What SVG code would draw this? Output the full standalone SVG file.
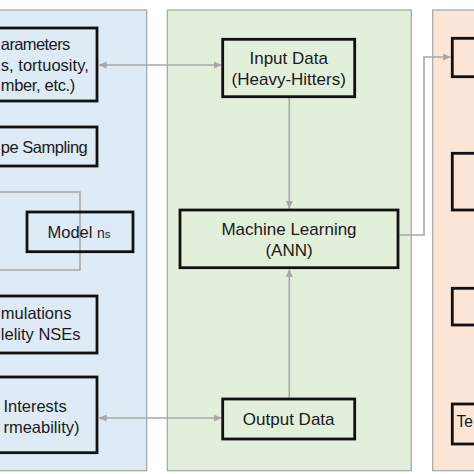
<svg xmlns="http://www.w3.org/2000/svg" width="474" height="474" viewBox="0 0 474 474">
<defs>
<style>
.panel{stroke:#a3a3a3;stroke-width:1.2}
.box{fill:none;stroke:#111;stroke-width:2.8}
.t{font-family:"Liberation Sans",Arial,sans-serif;font-size:17px;fill:#1a1a1a}
.l{font-size:16.5px}
.c{text-anchor:middle}
.e{text-anchor:end}
.con{fill:none;stroke:#a8a8a8;stroke-width:1.6}
</style>
<marker id="ah" viewBox="0 0 10 10" refX="9.5" refY="5" markerWidth="8" markerHeight="8" markerUnits="userSpaceOnUse" orient="auto-start-reverse">
<path d="M0,0.5 L10,5 L0,9.5 Z" fill="#a8a8a8"/>
</marker>
</defs>
<rect width="474" height="474" fill="#ffffff"/>
<rect class="panel" x="-5" y="10" width="151.7" height="460.7" fill="#deebf7"/>
<rect class="panel" x="167.3" y="10" width="244" height="460.7" fill="#e2efda"/>
<rect class="panel" x="432.7" y="10" width="50" height="460.7" fill="#fbe5d6"/>
<g id="connectors">
<path class="con" d="M-5,192 H80 V270 H-5"/>
<line class="con" x1="99" y1="65" x2="221.5" y2="65" marker-start="url(#ah)" marker-end="url(#ah)"/>
<line class="con" x1="99" y1="418" x2="221.5" y2="418" marker-start="url(#ah)" marker-end="url(#ah)"/>
<line class="con" x1="289.3" y1="98" x2="289.3" y2="208.5" marker-end="url(#ah)"/>
<line class="con" x1="289.3" y1="398" x2="289.3" y2="269.5" marker-end="url(#ah)"/>
<path class="con" d="M399.5,235 H424 V57 H450.5" marker-end="url(#ah)"/>
</g>
<g id="params">
<rect class="box" x="-5" y="28" width="102" height="73" fill="#deebf7"/>
<text class="t l" x="0.8" y="50" textLength="69.5" lengthAdjust="spacing">arameters</text>
<text class="t l" x="0.8" y="70.5" textLength="88" lengthAdjust="spacing">s, tortuosity,</text>
<text class="t l" x="0.8" y="91" textLength="74.5" lengthAdjust="spacing">mber, etc.)</text>
</g>
<g id="sampling">
<rect class="box" x="-5" y="127" width="102" height="39" fill="#deebf7"/>
<text class="t l" x="0.8" y="152.5" textLength="87" lengthAdjust="spacing">pe Sampling</text>
</g>
<g id="model">
<rect class="box" x="27" y="212" width="106" height="39.7" fill="#deebf7"/>
<text class="t l" x="47.5" y="237.7">Model <tspan font-size="14">n</tspan><tspan font-size="11.5">s</tspan></text>
</g>
<g id="simulations">
<rect class="box" x="-5" y="296" width="102" height="57" fill="#deebf7"/>
<text class="t l" x="0.8" y="319">mulations</text>
<text class="t l" x="0.8" y="340">lelity NSEs</text>
</g>
<g id="interests">
<rect class="box" x="-5" y="377" width="102" height="75.7" fill="#deebf7"/>
<text class="t l e" x="66.7" y="411.5">Interests</text>
<text class="t l e" x="79.5" y="432.5">rmeability)</text>
</g>
<g id="input">
<rect class="box" x="222.7" y="39.3" width="132" height="57.4" fill="#e2efda"/>
<text class="t c" x="288.7" y="64">Input Data</text>
<text class="t c" x="288.7" y="84.5">(Heavy-Hitters)</text>
</g>
<g id="ml">
<rect class="box" x="180" y="210" width="218" height="57.7" fill="#e2efda"/>
<text class="t c" x="289" y="235">Machine Learning</text>
<text class="t c" x="289" y="255.5">(ANN)</text>
</g>
<g id="output">
<rect class="box" x="222.7" y="399" width="132" height="40" fill="#e2efda"/>
<text class="t c" x="288.7" y="425">Output Data</text>
</g>
<g id="r1"><rect class="box" x="452.3" y="38.3" width="40" height="38.4" fill="#fbe5d6"/></g>
<g id="r2"><rect class="box" x="452.3" y="153.3" width="40" height="56.7" fill="#fbe5d6"/></g>
<g id="r3"><rect class="box" x="452.3" y="288.3" width="40" height="36.7" fill="#fbe5d6"/></g>
<g id="r4">
<rect class="box" x="452.3" y="404" width="40" height="40" fill="#fbe5d6"/>
<text class="t" x="456.5" y="426.5" textLength="16.5" lengthAdjust="spacingAndGlyphs">Te</text>
</g>
</svg>
